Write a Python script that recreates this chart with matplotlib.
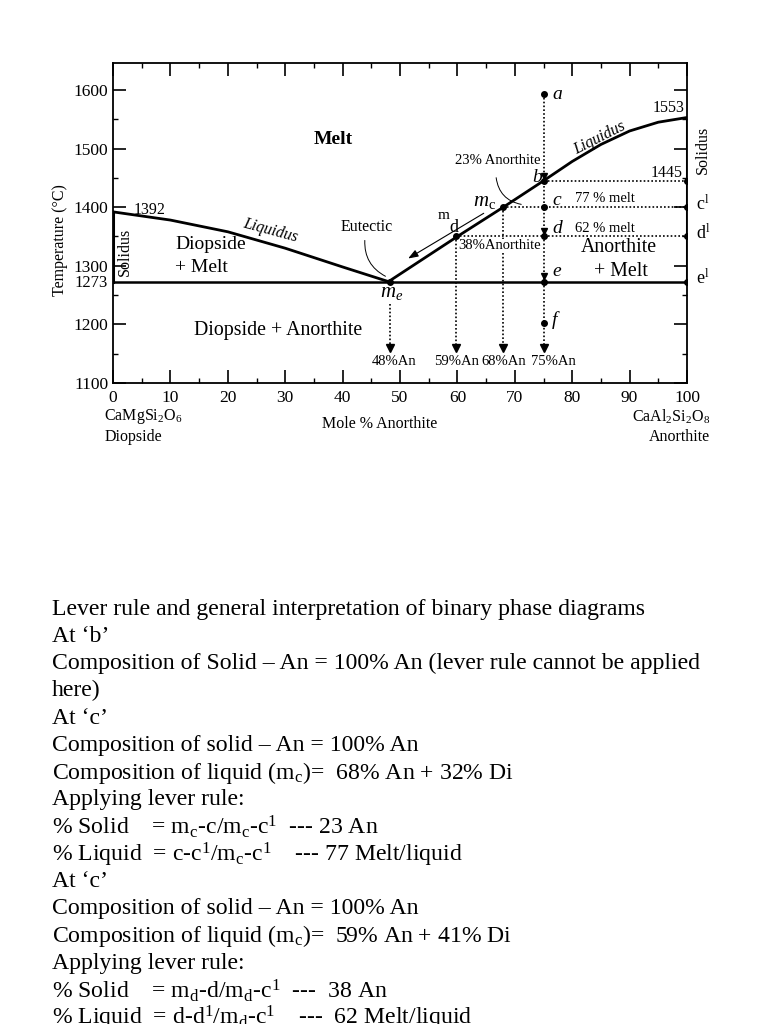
import matplotlib
matplotlib.use("Agg")
import matplotlib.pyplot as plt
import matplotlib.transforms as mtransforms

plt.rcParams['font.family'] = ['Liberation Serif', 'DejaVu Serif']
plt.rcParams['mathtext.fontset'] = 'custom'
plt.rcParams['mathtext.rm'] = 'Liberation Serif'
plt.rcParams['mathtext.it'] = 'Liberation Serif:italic'
plt.rcParams['mathtext.bf'] = 'Liberation Serif:bold'

# ---------------- data ----------------
left_liq_x = [0, 10, 20, 30, 40, 48]
left_liq_t = [1392, 1378, 1358, 1330, 1298, 1273]
right_liq_x = [48, 60, 68, 75, 80, 85, 90, 95, 100]
right_liq_t = [1273, 1350, 1400, 1445, 1478, 1507, 1530, 1545, 1553]
eutectic_t = 1273
diopside_melt_t = 1392
anorthite_melt_t = 1553

bulk_x = 75
path_labels = ['a', 'b', 'c', 'd', 'e', 'f']
path_t = [1593, 1445, 1400, 1350, 1273, 1203]
liquid_x = [48.2, 59.8, 68]           # m_e, m_d, m_c
liquid_t = [1273, 1350, 1400]
arrow_x = [48.2, 59.8, 68, 75]
arrow_labels = ['48%An', '59%An', '68%An', '75%An']
xticks = [0, 10, 20, 30, 40, 50, 60, 70, 80, 90, 100]
yticks = [1100, 1200, 1300, 1400, 1500, 1600]

text_lines = [
    "Lever rule and general interpretation of binary phase diagrams",
    "At \u2018b\u2019",
    "Composition of Solid \u2013 An = 100% An (lever rule cannot be applied",
    "here)",
    "At \u2018c\u2019",
    "Composition of solid \u2013 An = 100% An",
    "Composition of liquid (m$_\\mathrm{c}$)=  68% An + 32% Di",
    "Applying lever rule:",
    "% Solid    = m$_\\mathrm{c}$-c/m$_\\mathrm{c}$-c$^\\mathrm{1}$  --- 23 An",
    "% Liquid  = c-c$^\\mathrm{1}$/m$_\\mathrm{c}$-c$^\\mathrm{1}$    --- 77 Melt/liquid",
    "At \u2018c\u2019",
    "Composition of solid \u2013 An = 100% An",
    "Composition of liquid (m$_\\mathrm{c}$)=  59% An + 41% Di",
    "Applying lever rule:",
    "% Solid    = m$_\\mathrm{d}$-d/m$_\\mathrm{d}$-c$^\\mathrm{1}$  ---  38 An",
    "% Liquid  = d-d$^\\mathrm{1}$/m$_\\mathrm{d}$-c$^\\mathrm{1}$    ---  62 Melt/liquid",
]

# ---------------- figure ----------------
W, H = 768, 1024
fig = plt.figure(figsize=(W / 100, H / 100), dpi=100)
ax = fig.add_axes([113 / W, 1 - 383 / H, 574 / W, 320 / H])
ax.set_xlim(0, 100)
ax.set_ylim(1100, 1646)

for s in ax.spines.values():
    s.set_linewidth(1.3)

ax.set_xticks(xticks)
ax.set_yticks(yticks)
ax.set_xticks([5, 15, 25, 35, 45, 55, 65, 75, 85, 95], minor=True)
ax.set_yticks([1150, 1250, 1350, 1450, 1550], minor=True)
ax.tick_params(which='major', direction='in', length=9.4, width=1.2,
               top=True, right=True, labelsize=12.5, pad=5)
ax.tick_params(which='minor', direction='in', length=3.6, width=1.0,
               top=True, right=True)
ax.tick_params(axis='y', pad=3.5)

blend = mtransforms.blended_transform_factory(ax.transAxes, ax.transData)
ax.text(-0.009, eutectic_t - 2, '1273', transform=blend, ha='right', va='center', fontsize=12)

dot = dict(color='black', lw=1.2, linestyle=(0, (1, 1.3)))

# liquidus curves and solidus / eutectic lines
ax.plot(left_liq_x, left_liq_t, color='black', lw=2.0, zorder=5, solid_capstyle='butt')
ax.plot(right_liq_x, right_liq_t, color='black', lw=2.0, zorder=5)
ax.plot([0, 100], [eutectic_t, eutectic_t], color='black', lw=1.8, zorder=5)
ax.plot([0, 0], [eutectic_t, diopside_melt_t], color='black', lw=2.2, zorder=5)
ax.plot([100, 100], [eutectic_t, anorthite_melt_t], color='black', lw=2.2, zorder=5)

# vertical bulk composition path
ax.plot([bulk_x, bulk_x], [path_t[0], 1160], **dot, zorder=4)
ax.plot([bulk_x], [1160], marker='v', color='black', ms=6, zorder=6)
for tt in [path_t[1] + 9, path_t[3] + 9, path_t[4] + 9]:
    ax.plot([bulk_x], [tt], marker='v', color='black', ms=5, zorder=6)

# horizontal tie lines
tie_t = [path_t[1], path_t[2], path_t[3]]
tie_start = [bulk_x, liquid_x[2], liquid_x[1]]
for t0, x0 in zip(tie_t, tie_start):
    ax.plot([x0, 100], [t0, t0], **dot, zorder=4)

# dotted arrows down to the composition axis
ax.plot([liquid_x[0], liquid_x[0]], [1235, 1160], **dot, zorder=4)
ax.plot([liquid_x[1], liquid_x[1]], [liquid_t[1], 1160], **dot, zorder=4)
ax.plot([liquid_x[2], liquid_x[2]], [liquid_t[2], 1160], **dot, zorder=2)
for xx in arrow_x[:3]:
    ax.plot([xx], [1160], marker='v', color='black', ms=6, zorder=6)
label_shift = [0.8, 0.0, 0.1, 1.7]
for xx, sh, lab in zip(arrow_x, label_shift, arrow_labels):
    ax.text(xx + sh, 1137, lab, ha='center', va='center', fontsize=10.5)

# points
ax.plot([bulk_x] * len(path_t), path_t, 'o', color='black', ms=4, zorder=7)
ax.plot(liquid_x, liquid_t, 'o', color='black', ms=4, zorder=7)
ax.plot([100] * 4, [1445, 1400, 1350, 1273], 'o', color='black', ms=4, zorder=7)

# point labels
ax.text(76.5, path_t[0], 'a', style='italic', fontsize=14, ha='left', va='center')
ax.text(73.9, 1451, 'b', style='italic', fontsize=14, ha='center', va='center')
ax.text(76.5, 1412, 'c', style='italic', fontsize=14, ha='left', va='center')
ax.text(76.5, 1364, 'd', style='italic', fontsize=14, ha='left', va='center')
ax.text(76.5, 1290, 'e', style='italic', fontsize=14, ha='left', va='center')
ax.text(76.5, 1208, 'f', style='italic', fontsize=14, ha='left', va='center')
for lab, tt in zip(['c', 'd', 'e'], [1400, 1350, 1273]):
    ax.text(101.6, tt + 5, lab + '$^\\mathrm{l}$', fontsize=13, ha='left', va='center',
            clip_on=False)

ax.text(64.8, 1410, '$\\mathit{m}_\\mathrm{c}$', fontsize=15, ha='center', va='center')
ax.text(57.6, 1386, 'm', fontsize=11, ha='center', va='center')
ax.text(59.3, 1366, 'd', fontsize=13, ha='center', va='center')
ax.text(48.5, 1254, '$\\mathit{m}_\\mathit{e}$', fontsize=15, ha='center', va='center')

# region labels
ax.text(38.3, 1516, 'Melt', fontsize=14, fontweight='bold', ha='center', va='center')
ax.text(10.8, 1336, 'Diopside', fontsize=14, ha='left', va='center')
ax.text(10.8, 1297, '+ Melt', fontsize=14, ha='left', va='center')
ax.text(28.7, 1190, 'Diopside + Anorthite', fontsize=14.3, ha='center', va='center')
ax.text(88.2, 1331, 'Anorthite', fontsize=14.3, ha='center', va='center')
ax.text(88.5, 1291, '+ Melt', fontsize=14.3, ha='center', va='center')
ax.text(85.7, 1414, '77 % melt', fontsize=10.5, ha='center', va='center')
ax.text(85.7, 1364, '62 % melt', fontsize=10.5, ha='center', va='center')
ax.text(67.4, 1334, '38%Anorthite', fontsize=10.5, ha='center', va='center', zorder=3,
        bbox=dict(facecolor='white', edgecolor='none', pad=0.5))
ax.text(67.1, 1479, '23% Anorthite', fontsize=10.5, ha='center', va='center')
ax.text(44.2, 1366, 'Eutectic', fontsize=11.5, ha='center', va='center')
ax.text(27.4, 1360, 'Liquidus', fontsize=11.5, style='italic', rotation=-15,
        ha='center', va='center')
ax.text(84.8, 1517, 'Liquidus', fontsize=11.5, style='italic', rotation=27,
        ha='center', va='center')
ax.text(2.0, 1323, 'Solidus', fontsize=11.5, rotation=90, ha='center', va='center')
ax.text(102.8, 1497, 'Solidus', fontsize=11.5, rotation=90, ha='center', va='center',
        clip_on=False)
ax.text(6.3, 1395, '1392', fontsize=11.5, ha='center', va='center')
ax.text(99.5, 1570, '1553', fontsize=11.5, ha='right', va='center')
ax.text(99.3, 1459, '1445', fontsize=11.5, ha='right', va='center')

# leaders and crystallisation arrow
ax.annotate('', xy=(47.9, 1280), xytext=(43.9, 1348),
            arrowprops=dict(arrowstyle='-', lw=0.7, connectionstyle='arc3,rad=0.35'))
ax.annotate('', xy=(71.6, 1404), xytext=(66.7, 1455),
            arrowprops=dict(arrowstyle='-', lw=0.7, connectionstyle='arc3,rad=0.4'))
ax.annotate('', xy=(51.0, 1310), xytext=(65.0, 1392),
            arrowprops=dict(arrowstyle='-|>,head_length=0.6,head_width=0.22', lw=0.8,
                            color='black'))

# axis labels
ax.text(-9.2, 1344, 'Temperature (\u00b0C)', rotation=90, fontsize=11.5,
        ha='center', va='center', clip_on=False)
ax.text(46.5, 1030, 'Mole % Anorthite', fontsize=11.5, ha='center', va='center', clip_on=False)
ax.text(-1.5, 1043, 'CaMgSi$_2$O$_6$', fontsize=11.5, ha='left', va='center', clip_on=False)
ax.text(-1.5, 1008, 'Diopside', fontsize=11.5, ha='left', va='center', clip_on=False)
ax.text(104.0, 1043, 'CaAl$_2$Si$_2$O$_8$', fontsize=11.5, ha='right', va='center', clip_on=False)
ax.text(104.0, 1008, 'Anorthite', fontsize=11.5, ha='right', va='center', clip_on=False)

# ---------------- text block ----------------
y0, dy = 609, 27.27
for i, line in enumerate(text_lines):
    fig.text(52 / W, 1 - (y0 + i * dy) / H, line, fontsize=17.1, ha='left', va='center')

fig.savefig('out.png', dpi=100, facecolor='white')
